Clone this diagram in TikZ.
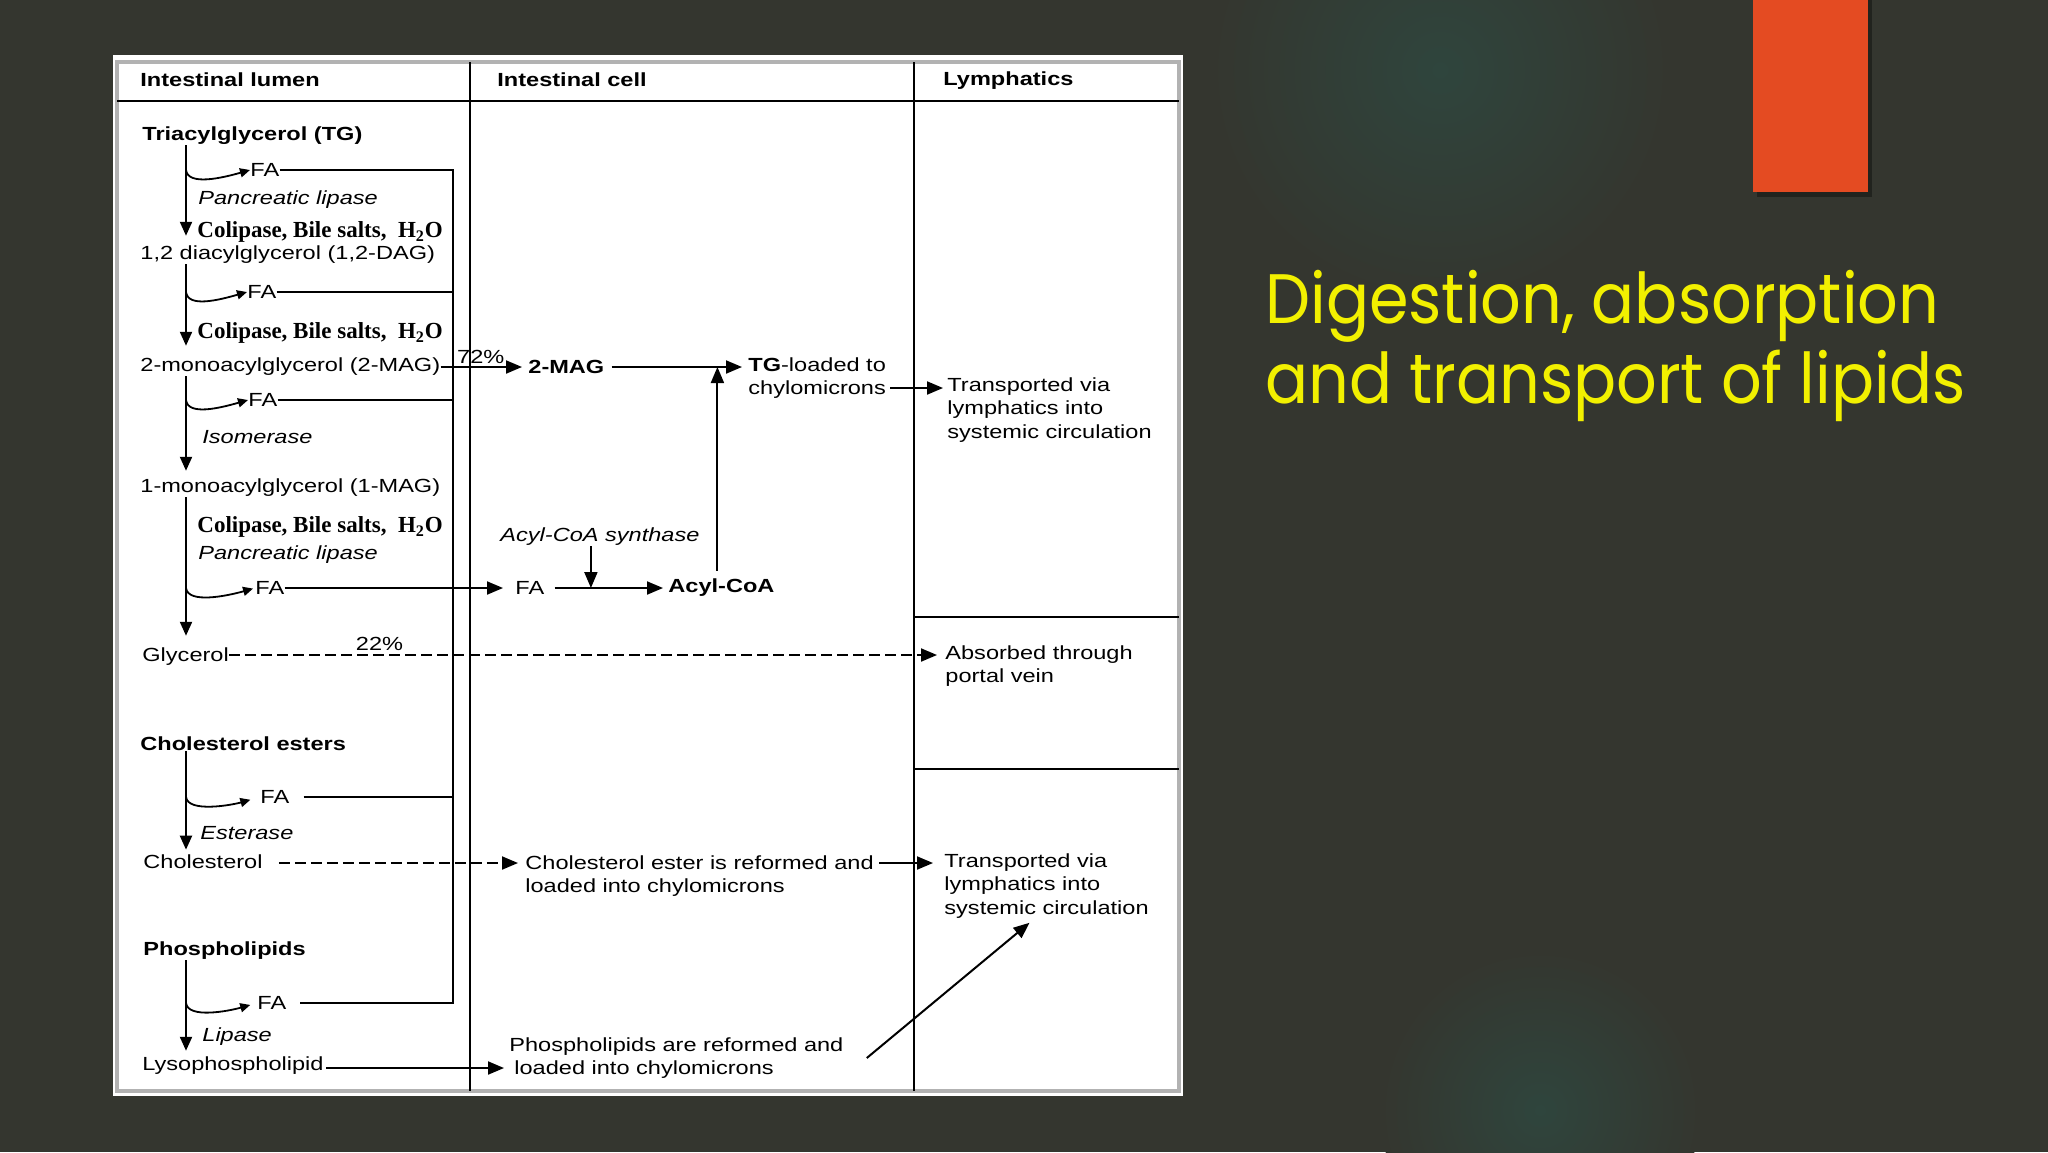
\documentclass[tikz,border=0pt]{standalone}
\usepackage{fontspec}
\setmainfont{Liberation Sans}[FakeStretch=1.24]
\newfontfamily\timesfont{Liberation Serif}
\newfontfamily\titlefont{Poppins}[FakeStretch=0.91]
\usetikzlibrary{arrows.meta}
\usetikzlibrary{positioning}
\definecolor{SlideBg}{HTML}{34362F}
\definecolor{SlideGlow}{HTML}{2F453D}
\definecolor{BarOrange}{HTML}{E44B22}
\definecolor{TitleYellow}{HTML}{F2F000}
\newcommand\diagsize{\fontsize{9.5pt}{11.75pt}\selectfont}
\newcommand\cofsize{\timesfont\fontsize{11.5pt}{13pt}\selectfont}

\begin{document}
\begin{tikzpicture}[x=0.5pt, y=-0.5pt,
    every node/.style={anchor=west, inner sep=0pt, font=\diagsize},
    hd/.style={font=\diagsize\bfseries},
    enz/.style={font=\diagsize\itshape},
    cof/.style={font=\cofsize\bfseries},
    txt/.style={align=left},
    spinearr/.style={line width=1.1pt, -{Triangle[length=7pt,width=6pt]}},
    curvearr/.style={line width=0.9pt, -{Triangle[length=5pt,width=4.5pt]}},
    bigarr/.style={line width=1pt, -{Triangle[length=8pt,width=6.5pt]}},
    dasharr/.style={bigarr, dash pattern=on 5.5pt off 2.5pt},
    fawire/.style={line width=1.1pt}]
  \useasboundingbox (0,0) rectangle (2048,1152);
  % slide
  \fill[SlideBg] (0,0) rectangle (2048,1152);
  \shade[inner color=SlideGlow, outer color=SlideBg] (1440,70) circle (230);
  \shade[inner color=SlideGlow, outer color=SlideBg] (1540,1110) circle (160);
  \fill[black, opacity=0.35] (1757,0) rectangle (1872,197);
  \fill[BarOrange] (1753,0) rectangle (1868,192);
  \node[font=\titlefont\fontsize{35pt}{40pt}\selectfont, text=TitleYellow,
    align=left, anchor=north west] (title) at (1265,270)
    {Digestion, absorption\\and transport of lipids};

  % table
  \fill[white] (113,55) rectangle (1183,1096);
  \draw[gray!60, line width=2pt] (117,62) rectangle (1179,1091);
  \draw[line width=1pt] (117,101) -- (1179,101);
  \draw[line width=1pt] (470,62) -- (470,1091);
  \draw[line width=1pt] (914,62) -- (914,1091);
  \draw[line width=0.9pt] (914,617) -- (1179,617);
  \draw[line width=0.9pt] (914,769) -- (1179,769);
  \node[hd] (hLumen) at (140,80) {Intestinal lumen};
  \node[hd] (hCell) at (497,80) {Intestinal cell};
  \node[hd] (hLymph) at (943,81) {Lymphatics};

  % intestinal lumen
  \node[hd] (tg) at (142,136) {Triacylglycerol (TG)};
  \node (fa1) at (250,170) {FA};
  \node[enz] (pl1) at (198,200) {Pancreatic lipase};
  \node[cof] (cb1) at (197,232) {Colipase, Bile salts,~ H\textsubscript{2}O};
  \node (dag) at (140,255) {1,2 diacylglycerol (1,2-DAG)};
  \node (fa2) at (247,292) {FA};
  \node[cof] (cb2) at (197,333) {Colipase, Bile salts,~ H\textsubscript{2}O};
  \node (mag2) at (140,367) {2-monoacylglycerol (2-MAG)};
  \node (fa3) at (248,400) {FA};
  \node[enz] (iso) at (202,437) {Isomerase};
  \node (mag1) at (140,488) {1-monoacylglycerol (1-MAG)};
  \node[cof] (cb3) at (197,527) {Colipase, Bile salts,~ H\textsubscript{2}O};
  \node[enz] (pl2) at (198,555) {Pancreatic lipase};
  \node (fa4) at (255,588) {FA};
  \node (gly) at (142,657) {Glycerol};
  \node[hd] (ce) at (140,744) {Cholesterol esters};
  \node (fa5) at (260,797) {FA};
  \node[enz] (est) at (200,833) {Esterase};
  \node (chol) at (143,862) {Cholesterol};
  \node[hd] (pp) at (143,951) {Phospholipids};
  \node (fa6) at (257,1003) {FA};
  \node[enz] (lip) at (202,1037) {Lipase};
  \node (lyso) at (142,1066) {Lysophospholipid};

  % intestinal cell
  \node[hd] (mag2c) at (528,367) {2-MAG};
  \node[txt] (tgl) at (748,378) {\textbf{TG}-loaded to\\chylomicrons};
  \node[enz] (syn) at (500,537) {Acyl-CoA synthase};
  \node (cfa) at (515,588) {FA};
  \node[hd] (acoa) at (668,588) {Acyl-CoA};
  \node[txt] (cer) at (525,876) {Cholesterol ester is reformed and\\loaded into chylomicrons};
  \node[txt] (ppr) at (509,1058) {Phospholipids are reformed and\\\hspace{2.5pt}loaded into chylomicrons};

  % lymphatics
  \node[txt] (tv1) at (947,410) {Transported via\\lymphatics into\\systemic circulation};
  \node[txt] (abs) at (945,666) {Absorbed through\\portal vein};
  \node[txt] (tv2) at (944,886) {Transported via\\lymphatics into\\systemic circulation};

  \coordinate (spine) at (186,0);
  \coordinate (bus) at (453,0);
  \coordinate (rChylo) at (0,388);
  \coordinate (rGly) at (0,655);
  \coordinate (rChol) at (0,863);
  \coordinate (rLyso) at (0,1068);

  % hydrolysis steps
  \foreach \a/\b/\s in {tg/dag/5pt, dag/mag2/6pt, mag2/mag1/4pt,
      mag1/gly/6pt, ce/chol/2.5pt, pp/lyso/3pt}
    \draw[spinearr, shorten >=\s] (\a.south -| spine) -- (\b.north -| spine);
  \foreach \f/\s in {fa1/0pt, fa2/0pt, fa3/0pt, fa4/1pt, fa5/5pt, fa6/3.5pt}
    \draw[curvearr, shorten >=\s] (\f.west -| spine)
      .. controls +(2,16) and +(-28,8) .. (\f.west);

  % fatty acids into the cell
  \draw[fawire] (fa1.east) -| (fa6.east -| bus) -- ([xshift=6.5pt]fa6.east);
  \foreach \f in {fa2, fa3}
    \draw[fawire] (\f.east) -- (\f.east -| bus);
  \draw[fawire] ([xshift=7pt]fa5.east) -- (fa5.east -| bus);
  \draw[bigarr, shorten >=6pt] (fa4.east) -- (cfa.west);
  \draw[bigarr, shorten >=3pt] (mag2.east) -- (mag2c.west)
    node[pos=0.46, above=1pt] {72\%};
  \draw[bigarr, shorten >=3pt] ([xshift=3.5pt]mag2c.east) -- (mag2c.east -| tgl.west);
  \draw[bigarr, shorten >=2.5pt, shorten <=5pt] (cfa.east) -- (acoa.west);
  \draw[bigarr] ([xshift=-4.5pt]syn.south) -- ([xshift=-4.5pt]syn.south |- cfa.east);
  \draw[bigarr, shorten <=4pt] ([xshift=-2pt]acoa.north) -- ([xshift=-2pt]acoa.north |- mag2c.east);
  \draw[bigarr, shorten <=2pt, shorten >=2pt] (tgl.east |- rChylo) -- (tv1.west |- rChylo);

  % glycerol, cholesterol, phospholipids
  \draw[dasharr, shorten >=4pt] (gly.east |- rGly) -- (abs.west |- rGly)
    node[pos=0.21, above=1.5pt] {22\%};
  \draw[dasharr, shorten <=8pt, shorten >=3.5pt] (chol.east |- rChol) -- (cer.west |- rChol);
  \draw[bigarr, shorten <=2.5pt, shorten >=5.5pt] (cer.east |- rChol) -- (tv2.west |- rChol);
  \draw[bigarr, shorten <=1pt, shorten >=2.5pt] (lyso.east |- rLyso) -- (ppr.west |- rLyso);
  \draw[bigarr] ([xshift=11.5pt]ppr.east) -- ([xshift=-8.5pt,yshift=-2pt]tv2.south);
\end{tikzpicture}
\end{document}
